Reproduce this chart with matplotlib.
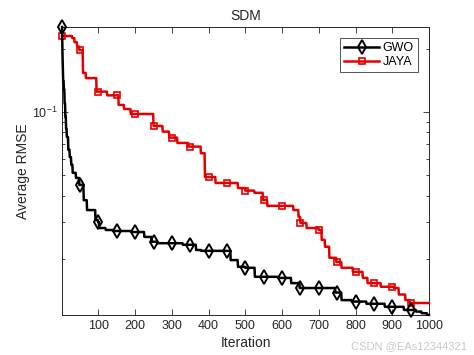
import numpy as np
import matplotlib
matplotlib.use("Agg")
import matplotlib.pyplot as plt
from matplotlib.ticker import LogLocator, NullFormatter, FixedLocator, FuncFormatter

plt.rcParams['font.family'] = ['Liberation Sans', 'DejaVu Sans']

n_iter = 1000
# step breakpoints: iteration at which a new best value starts, and that value
gwo_iters = [1, 2, 3, 4, 6, 8, 10, 12, 14, 18, 22, 26, 30, 39, 48, 60, 69, 92, 99, 102, 120,
             140, 190, 225, 245, 260, 330, 366, 380, 460, 480, 500, 526, 590, 625, 648, 745,
             762, 790, 830, 880, 932, 965, 980, 995]
gwo_vals = [0.254, 0.19, 0.16, 0.14, 0.128, 0.11, 0.095, 0.083, 0.076, 0.066, 0.061, 0.056,
            0.0513, 0.0485, 0.0449, 0.038, 0.0341, 0.0306, 0.0299, 0.028, 0.0274, 0.0271,
            0.0268, 0.0254, 0.0241, 0.0237, 0.0233, 0.0220, 0.0218, 0.0197, 0.0183, 0.0181,
            0.0164, 0.0162, 0.0153, 0.0145, 0.0138, 0.0127, 0.0125, 0.0122, 0.0118, 0.0114,
            0.0112, 0.0110, 0.0108]

jaya_iters = [1, 29, 35, 42, 48, 58, 66, 95, 124, 155, 170, 188, 250, 275, 293, 315, 345,
              379, 390, 419, 480, 500, 525, 548, 560, 631, 645, 650, 667, 700, 708, 717, 729,
              748, 762, 793, 820, 833, 869, 905, 918, 936, 948]
jaya_vals = [0.230, 0.225, 0.215, 0.205, 0.197, 0.1535, 0.145, 0.125, 0.120, 0.108, 0.1033,
             0.0978, 0.0858, 0.0806, 0.0755, 0.0712, 0.0684, 0.0636, 0.049, 0.0459, 0.0434,
             0.0422, 0.0412, 0.0381, 0.0357, 0.0341, 0.0316, 0.0296, 0.0280, 0.0274, 0.0246,
             0.0228, 0.0202, 0.0193, 0.0181, 0.0173, 0.0162, 0.0153, 0.0147, 0.0145, 0.0135,
             0.0127, 0.0123]

x_ticks = [100, 200, 300, 400, 500, 600, 700, 800, 900, 1000]


def expand(iters, vals):
    it = np.arange(1, n_iter + 1)
    idx = np.searchsorted(np.array(iters), it, side='right') - 1
    return it, np.array(vals)[idx]


x, gwo = expand(gwo_iters, gwo_vals)
_, jaya = expand(jaya_iters, jaya_vals)

fig = plt.figure(figsize=(4.74, 3.55), dpi=100)
ax = fig.add_axes([0.131, 0.113, 0.774, 0.811])

marks = list(range(0, 1000, 50))
marks = [0] + [m - 1 for m in marks[1:]]

ax.plot(x, gwo, color='black', lw=1.8, marker='d', ms=7, mfc='none', mec='black',
        mew=1.4, markevery=marks, label='GWO', clip_on=False, zorder=4)
ax.plot(x, jaya, color='#e50000', lw=1.8, marker='s', ms=4.5, mfc='none', mec='#e50000',
        mew=1.2, markevery=marks, label='JAYA', clip_on=False, zorder=3)

ax.set_yscale('log')
ax.set_xlim(1, 1000)
ax.set_ylim(0.0108, 0.254)
ax.xaxis.set_major_locator(FixedLocator(x_ticks))
ax.set_xticklabels([str(t) for t in x_ticks])
ax.yaxis.set_major_locator(LogLocator(base=10, numticks=10))
ax.yaxis.set_major_formatter(FuncFormatter(
    lambda v, p: r'$\mathregular{10^{%d}}$' % int(round(np.log10(v)))))
ax.yaxis.set_minor_locator(LogLocator(base=10, subs=np.arange(2, 10), numticks=10))
ax.yaxis.set_minor_formatter(NullFormatter())

ax.tick_params(axis='both', which='both', direction='in', top=True, right=True,
               labelsize=9, colors='#262626', labelcolor='#262626')
ax.tick_params(which='major', length=4, width=0.6)
ax.tick_params(which='minor', length=2.5, width=0.6)
for s in ax.spines.values():
    s.set_color('#262626')
    s.set_linewidth(0.7)

ax.set_title('SDM', fontsize=10, color='#262626', pad=5)
ax.set_xlabel('Iteration', fontsize=10, color='#262626', labelpad=3)
ax.set_ylabel('Average RMSE', fontsize=10, color='#262626', labelpad=1)

leg = ax.legend(loc='upper right', fontsize=9, frameon=True, fancybox=False,
                edgecolor='#262626', borderpad=0.3, handlelength=2.8, labelspacing=0.2,
                borderaxespad=0.9, handletextpad=0.3)
leg.get_frame().set_linewidth(0.7)

fig.text(0.985, 0.012, 'CSDN @EAs12344321', ha='right', va='bottom', fontsize=8,
         color='#c8c8c8')

fig.savefig('out.png', dpi=100)
